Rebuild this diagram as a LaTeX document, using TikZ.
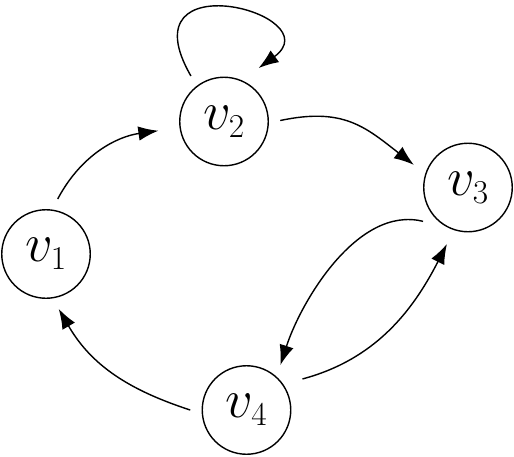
\documentclass[tikz,border=0pt]{standalone}
\usepackage{fix-cm}
\usepackage{amsmath}
\usepackage{tikz}
\usetikzlibrary{calc, arrows.meta}
\DeclareMathSizes{31}{31}{19}{13}
\tikzset{
	myvertex/.style={circle, draw=black, line width=0.8pt, minimum size=1.77cm, inner sep=0mm,
				outer sep=0.24cm, text centered, font=\fontsize{31}{37}\selectfont
				},
	myarrow/.style={->, black, >={Latex[length=4mm, width=2.9mm]}, line width=0.8pt
				},
	myloop/.style={myarrow, out distance=2.7cm, in distance=2.0cm
				}
	}

\begin{document}
\begin{tikzpicture}

				\coordinate (origem) at (0,0);
				
				\useasboundingbox (origem) rectangle ($(origem) + (10.28, -9.12)$);
				
				\node[myvertex] (v1) at ($(origem) + (0.92, -5.08)$) {$v_1$};
				
				\node[myvertex] (v2) at ($(origem) + (4.48, -2.43)$) {$v_2$};
				
				\node[myvertex] (v3) at ($(origem) + (9.36, -3.75)$) {$v_3$};
				
				\node[myvertex] (v4) at ($(origem) + (4.93, -8.20)$) {$v_4$};
				
				
				\draw[myarrow, shorten >=0.2cm] 
				(v1.78) to[out=62, in=188] (v2.188);
				
				\draw[myarrow, shorten >=0.05cm] 
				(v2.1) to[out=12, in=142, looseness=1.15] (v3.158);
				
				\draw[myarrow] 
				(v3.217) to[out=166, in=72, looseness=0.85] (v4.53);
				
				\draw[myarrow, shorten <=0.16cm, shorten >=0.08cm] 
				(v4.31) to[out=15, in=243] (v3.250);
				
				\draw[myarrow] 
				(v4.180) to[out=162, in=300] (v1.283);
				
				\draw[myloop, shorten >=0.16cm] 
				(v2.126) to[out=120, in=36] (v2.60);
		
	\end{tikzpicture}
\end{document}
